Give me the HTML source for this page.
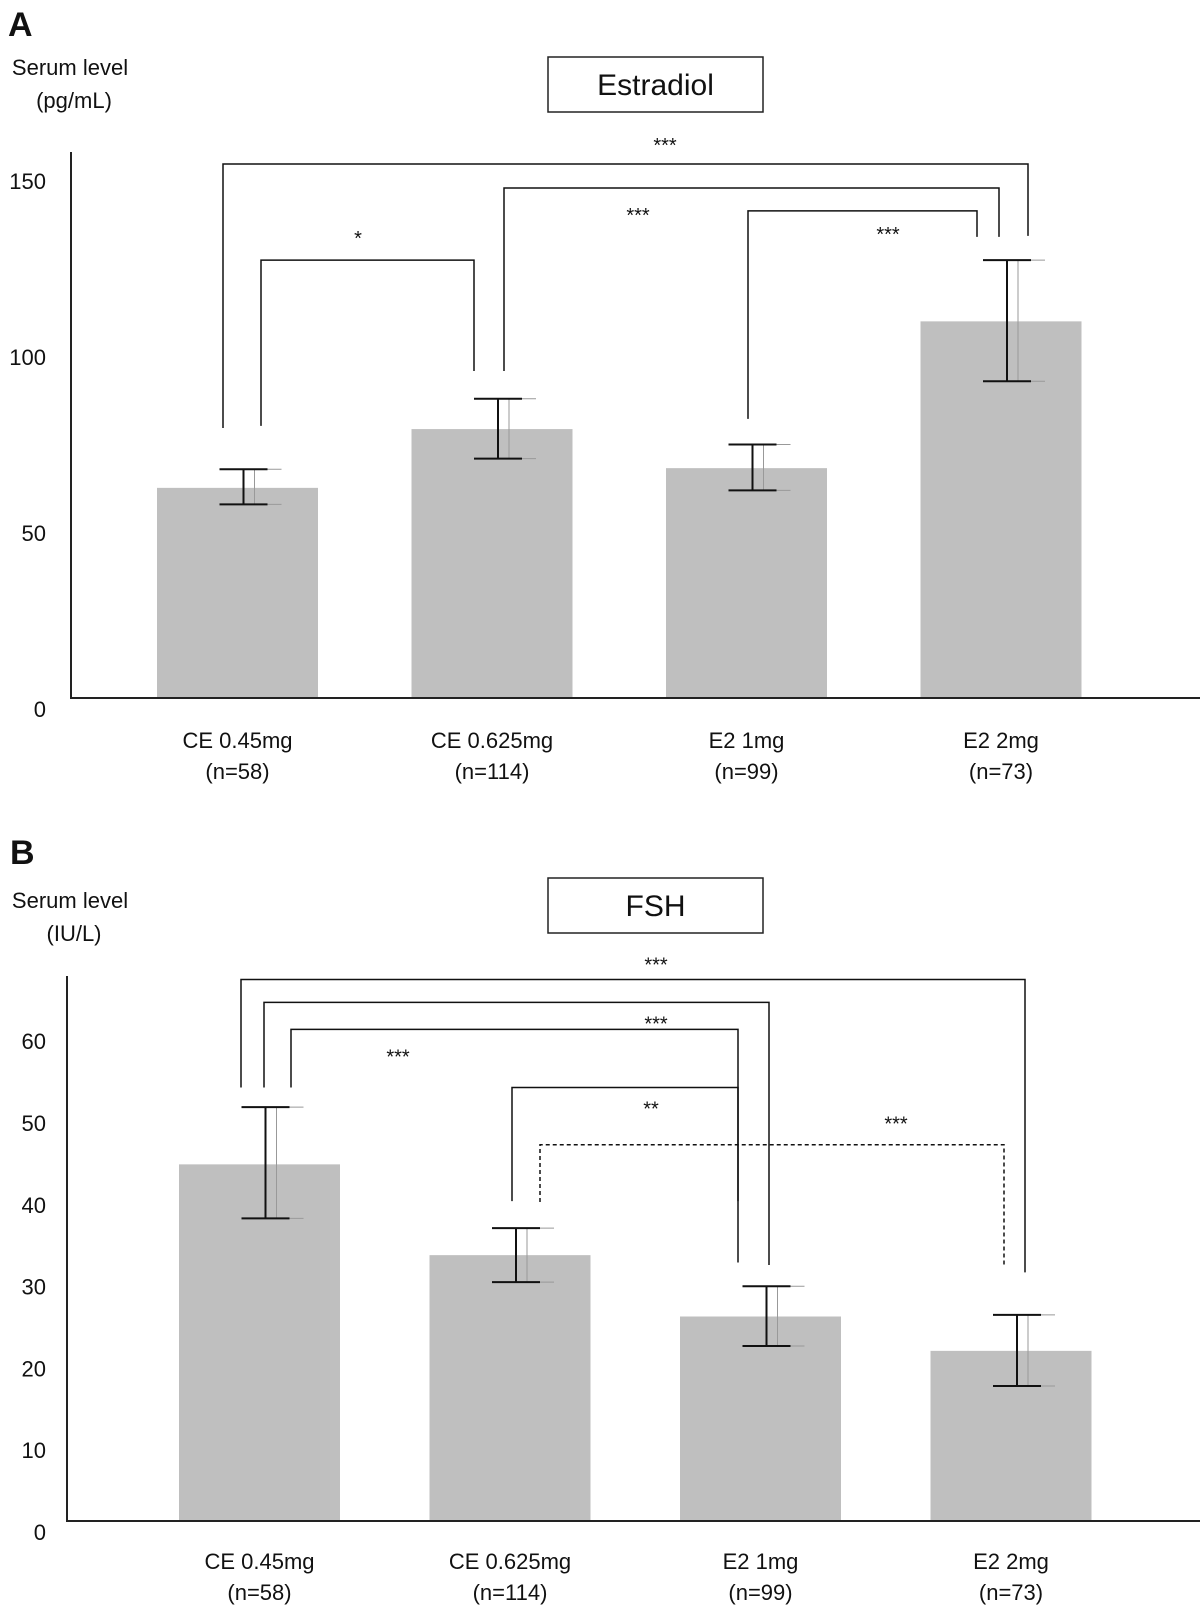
<!DOCTYPE html>
<html><head><meta charset="utf-8"><style>
body{margin:0;background:#fff}
svg{display:block;font-family:"Liberation Sans",sans-serif}
</style></head><body>
<svg id="s" width="1200" height="1609" viewBox="0 0 1200 1609"></svg>
<script>
const categories=["CE 0.45mg","CE 0.625mg","E2 1mg","E2 2mg"];
const nLabels=["(n=58)","(n=114)","(n=99)","(n=73)"];
const e2Values=[59.7,76.4,65.3,107];
const e2Upper=[65,85,72,124.4];
const e2Lower=[55,68,59,90];
const e2Ticks=[0,50,100,150];
const fshValues=[43.6,32.5,25,20.8];
const fshUpper=[50.6,35.8,28.7,25.2];
const fshLower=[37,29.2,21.4,16.5];
const fshTicks=[0,10,20,30,40,50,60];
// brackets: [fromIdx,toIdx,levelValue,leftEndValue,rightEndValue,label,dashed]
const e2Brackets=[[0,3,151.7,76.7,131.3,"***",0],[1,3,144.9,92.9,131,"***",0],[2,3,138.4,79.3,131,"***",0],[0,1,124.4,77.3,92.9,"*",0]];
const fshBrackets=[[0,3,66.2,53,30.4,"***",0],[0,2,63.4,53,31.3,"***",0],[0,1,60.1,53,39.1,"***",0],[1,2,53,39.1,31.6,"**",0],[1,3,46,39,31.3,"***",1]];

const S=document.getElementById('s');const NS="http://www.w3.org/2000/svg";
function mk(t,a,p){const e=document.createElementNS(NS,t);for(const k in a)e.setAttribute(k,a[k]);(p||S).appendChild(e);return e;}
function txt(x,y,s,size,p,anchor,w){const e=mk('text',{x:x,y:y,'font-size':size,'text-anchor':anchor||'middle','font-weight':w||'normal',fill:'#111'},p);e.textContent=s;return e;}

function chart(o){
  const g=mk('g',{});
  
  
  const y=v=>o.base-v*o.ppu;
  const bx=i=>o.x0+i*o.step;
  const pl=txt(o.panelX,o.panelY,o.panel,34,g,'start','bold');
  
  const yl=txt(70,o.ylY,"Serum level",22,g);
  
  const yu=txt(74,o.ylY+33,o.unit,22,g);
  
  const tb=mk('rect',{x:548,y:o.titleY,width:215,height:55,fill:'#fff',stroke:'#222','stroke-width':1.5},g);
  
  const tt=txt(655.5,o.titleY+38,o.title,30,g);
  
  o.ticks.forEach(t=>{const e=txt(46,y(t)+19,String(t),22,g,'end');
    });
  o.vals.forEach((v,i)=>{
    const b=mk('rect',{x:bx(i),y:y(v),width:o.bw,height:o.base-y(v),fill:'#bfbfbf'},g);
    
    const c=bx(i)+o.bw/2+6;
    const eg=mk('g',{stroke:'#111','stroke-width':2},g);
    
    mk('line',{x1:c+11,x2:c+11,y1:y(o.up[i]),y2:y(o.lo[i]),stroke:'#999','stroke-width':1},eg);
    mk('line',{x1:c,x2:c+38,y1:y(o.up[i]),y2:y(o.up[i]),stroke:'#999','stroke-width':1},eg);
    mk('line',{x1:c,x2:c+38,y1:y(o.lo[i]),y2:y(o.lo[i]),stroke:'#999','stroke-width':1},eg);
    mk('line',{x1:c,x2:c,y1:y(o.up[i]),y2:y(o.lo[i])},eg);
    mk('line',{x1:c-24,x2:c+24,y1:y(o.up[i]),y2:y(o.up[i])},eg);
    mk('line',{x1:c-24,x2:c+24,y1:y(o.lo[i]),y2:y(o.lo[i])},eg);
    const l1=txt(bx(i)+o.bw/2,o.lab1,categories[i],22,g);
    
    const l2=txt(bx(i)+o.bw/2,o.lab1+31,nLabels[i],22,g);
    
  });
  o.br.forEach((b,k)=>{
    const xa=o.bxL[k],xb=o.bxR[k];
    const p=mk('path',{d:`M${xa} ${y(b[3])}V${y(b[2])}H${xb}V${y(b[4])}`,fill:'none',stroke:'#111','stroke-width':1.5,'stroke-dasharray':b[6]?'4 3':'none'},g);
    
    const st=txt(o.starX[k],y(b[2])+o.starDy[k],b[5],20,g);
    
  });
  const ax=mk('path',{d:`M${o.axX} ${o.axTop}V${o.base}H1200`,fill:'none',stroke:'#222','stroke-width':2},g);
  
}
chart({name:'estradiol-chart',panel:'A',panelX:8,panelY:36,ylY:75,unit:'(pg/mL)',title:'Estradiol',titleY:57,
  ticks:e2Ticks,vals:e2Values,up:e2Upper,lo:e2Lower,base:698,ppu:3.52,x0:157,step:254.5,bw:161,
  axX:71,axTop:152,lab1:748,br:e2Brackets,
  bxL:[223,504,748,261],bxR:[1028,999,977,474],starX:[665,638,888,358],starDy:[-12,34,30,-15]});
chart({name:'fsh-chart',panel:'B',panelX:10,panelY:864,ylY:908,unit:'(IU/L)',title:'FSH',titleY:878,
  ticks:fshTicks,vals:fshValues,up:fshUpper,lo:fshLower,base:1521,ppu:8.18,x0:179,step:250.5,bw:161,
  axX:67,axTop:976,lab1:1569,br:fshBrackets,
  bxL:[241,264,291,512,540],bxR:[1025,769,738,738,1004],starX:[656,656,398,651,896],starDy:[-8,28,34,28,-14]});
</script>
</body></html>
